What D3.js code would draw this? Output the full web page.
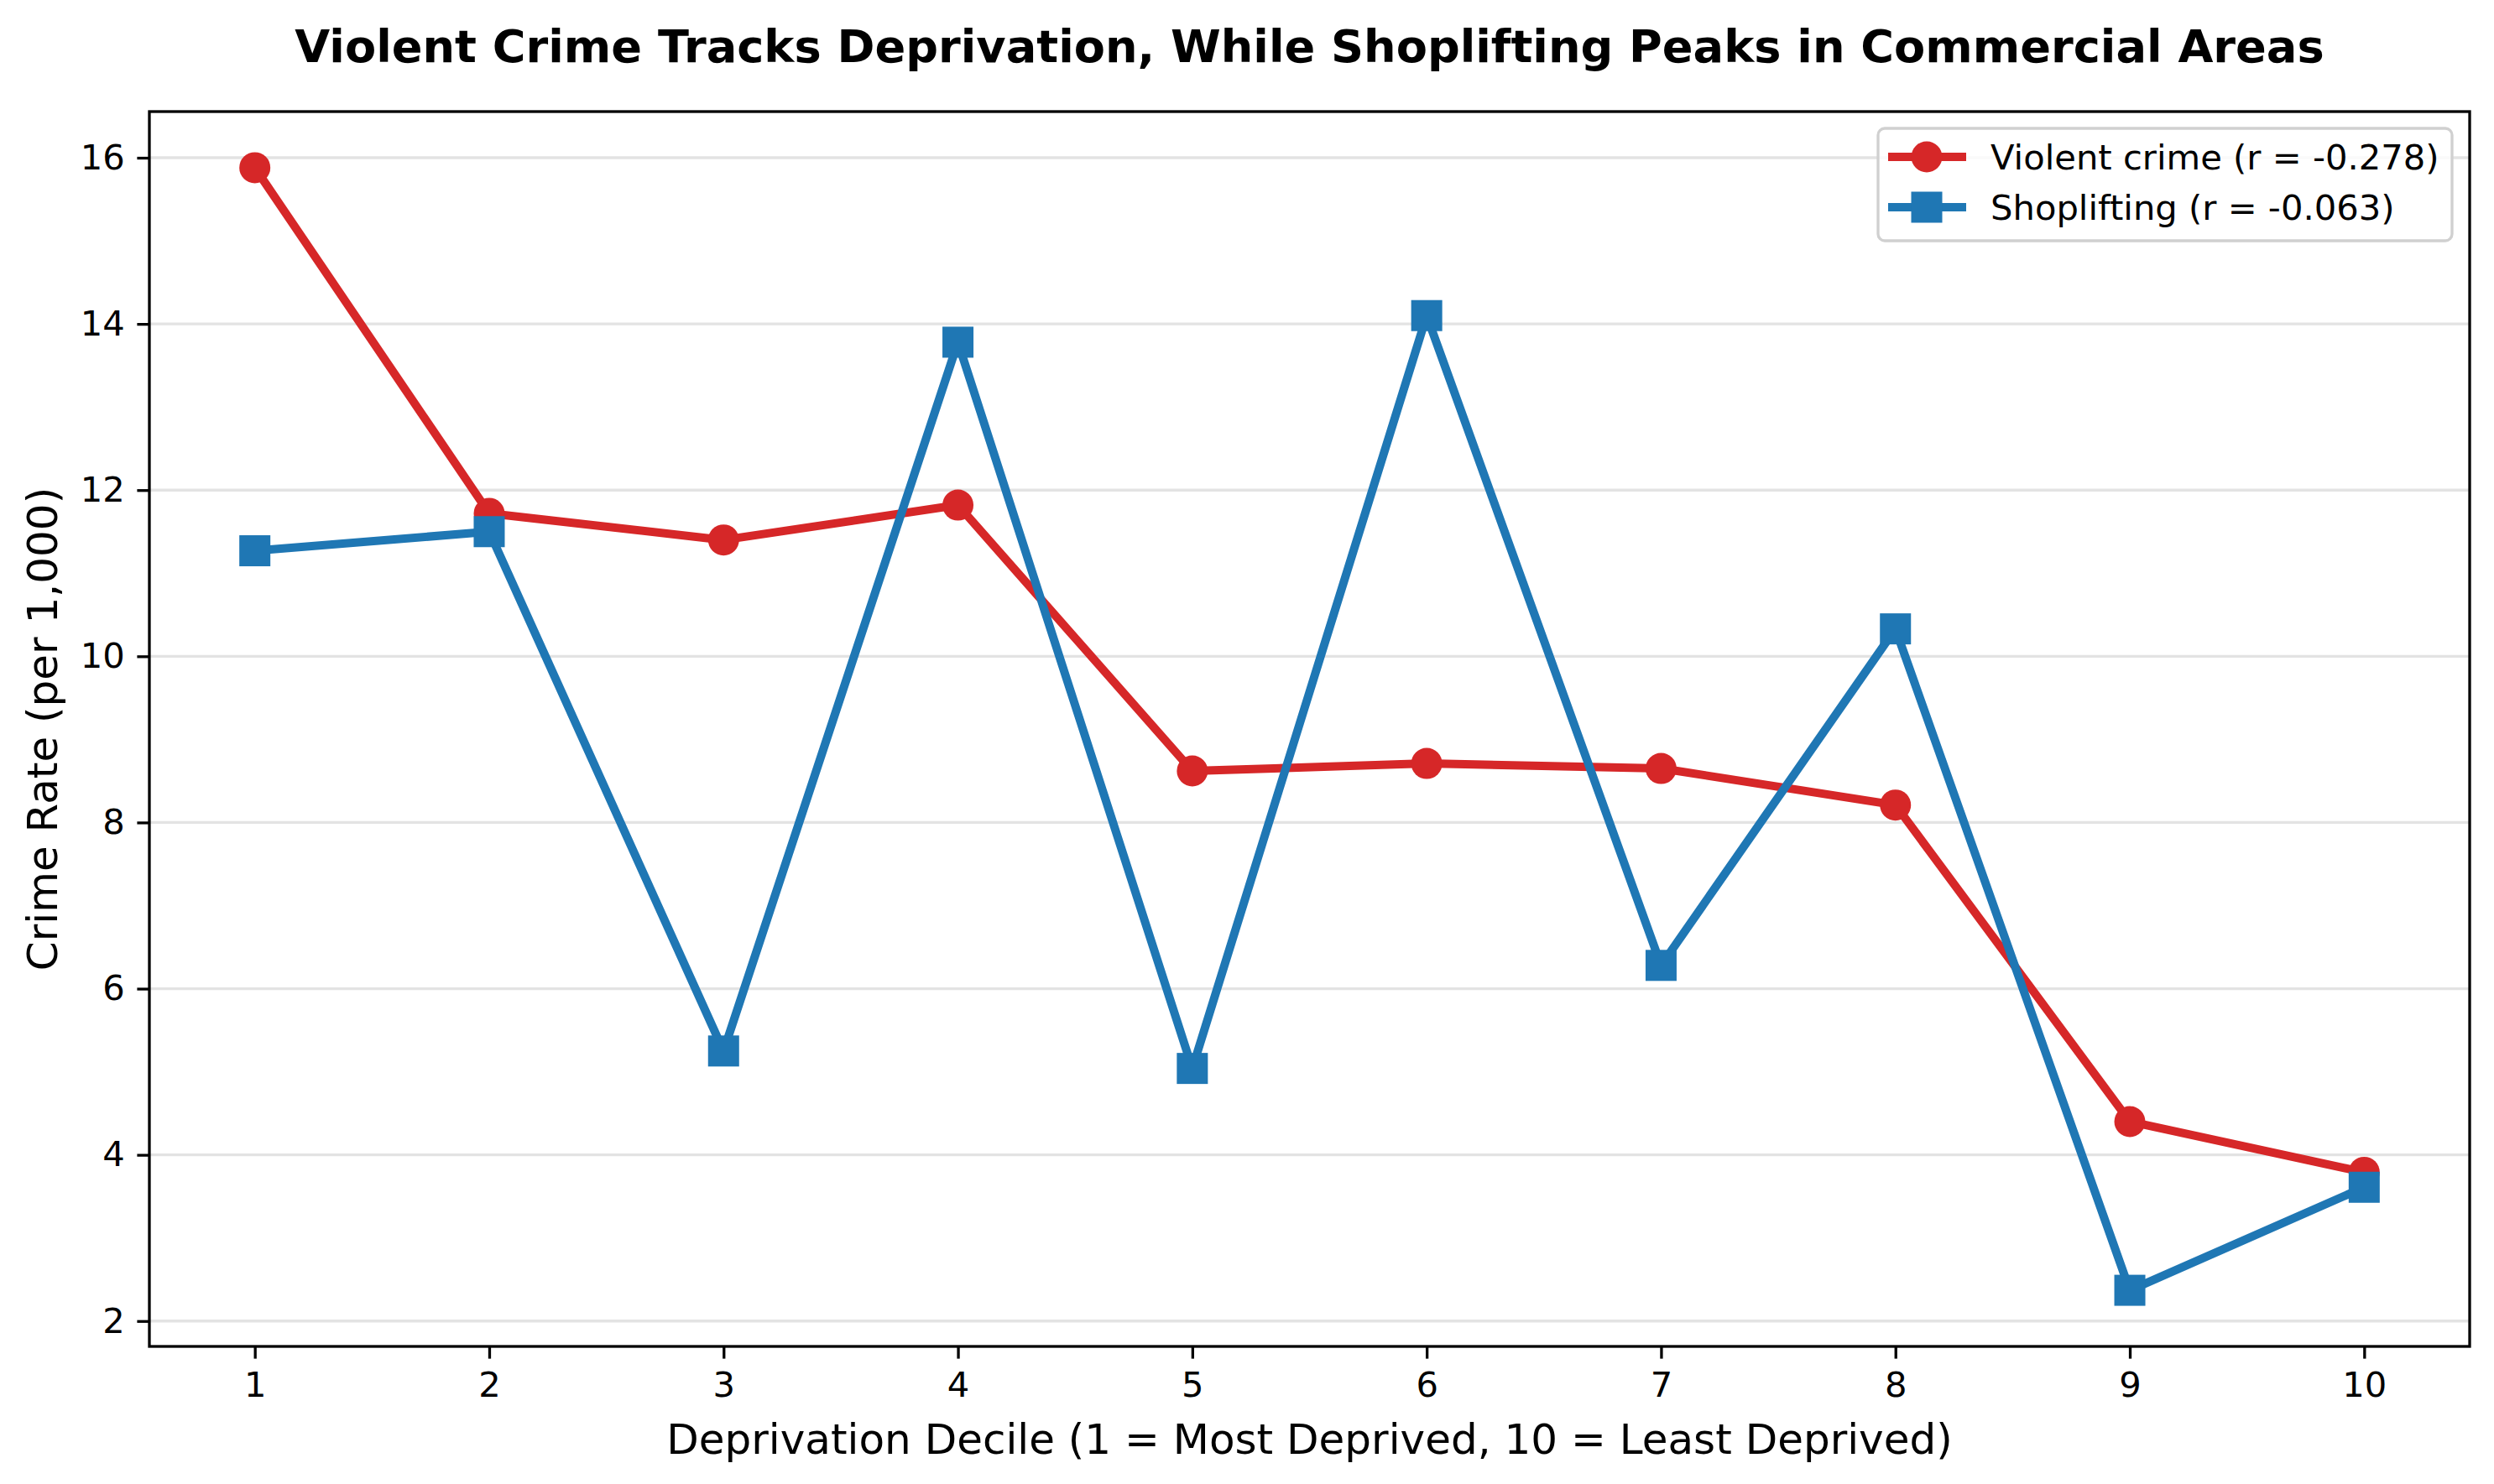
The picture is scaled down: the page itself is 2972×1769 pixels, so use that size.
<!DOCTYPE html>
<html>
<head>
<meta charset="utf-8">
<script src="https://cdn.jsdelivr.net/npm/d3@7"></script>
<style>
  body { margin: 0; background: #fff; }
  svg { display: block; font-family: "DejaVu Sans", sans-serif; }
</style>
</head>
<body>
<svg id="chart"></svg>
<script>
// data
var deciles = [1, 2, 3, 4, 5, 6, 7, 8, 9, 10];
var violent = [15.88, 11.72, 11.40, 11.82, 8.62, 8.71, 8.65, 8.21, 4.40, 3.79];
var shoplifting = [11.27, 11.50, 5.25, 13.78, 5.04, 14.10, 6.28, 10.33, 2.37, 3.61];
var yTicks = [2, 4, 6, 8, 10, 12, 14, 16];
var seriesNames = ["Violent crime (r = -0.278)", "Shoplifting (r = -0.063)"];

var W = 2972, H = 1769;
var plotL = 178, plotR = 2943, plotT = 133, plotB = 1605;

var svg = d3.select("#chart").attr("width", W).attr("height", H);
svg.append("rect").attr("width", W).attr("height", H).attr("fill", "#fff");

var allVals = violent.concat(shoplifting);
var lo = d3.min(allVals), hi = d3.max(allVals), pad = (hi - lo) * 0.05;

var x = d3.scaleLinear().domain([0.55, 10.45]).range([plotL, plotR]);
var y = d3.scaleLinear().domain([lo - pad, hi + pad]).range([plotB, plotT]);

// grid
svg.append("g")
  .selectAll("line")
  .data(yTicks)
  .enter()
  .append("line")
  .attr("x1", plotL).attr("x2", plotR)
  .attr("y1", function(d){ return y(d); })
  .attr("y2", function(d){ return y(d); })
  .attr("stroke", "#e3e3e3")
  .attr("stroke-width", 3.3);

// axes
var xAxis = svg.append("g")
  .attr("transform", "translate(0," + plotB + ")")
  .call(d3.axisBottom(x).tickValues(deciles).tickFormat(d3.format("d")).tickSize(14.6).tickPadding(14.6));
var yAxis = svg.append("g")
  .attr("transform", "translate(" + plotL + ",0)")
  .call(d3.axisLeft(y).tickValues(yTicks).tickFormat(d3.format("d")).tickSize(14.6).tickPadding(14.6));

[xAxis, yAxis].forEach(function(a){
  a.select(".domain").remove();
  a.selectAll(".tick line").attr("stroke", "#000").attr("stroke-width", 3.3);
  a.selectAll(".tick text").attr("font-size", 41.7).attr("fill", "#000")
    .attr("font-family", "DejaVu Sans");
});
xAxis.selectAll(".tick text").attr("dy", "0.74em");

// frame
svg.append("rect")
  .attr("x", plotL).attr("y", plotT)
  .attr("width", plotR - plotL).attr("height", plotB - plotT)
  .attr("fill", "none").attr("stroke", "#000").attr("stroke-width", 3.3);

// lines
var line = d3.line()
  .x(function(d, i){ return x(deciles[i]); })
  .y(function(d){ return y(d); });

svg.append("path").datum(violent)
  .attr("d", line).attr("fill", "none")
  .attr("stroke", "#d62728").attr("stroke-width", 10)
  .attr("stroke-linejoin", "round");
svg.append("g").selectAll("circle")
  .data(violent).enter().append("circle")
  .attr("cx", function(d, i){ return x(deciles[i]); })
  .attr("cy", function(d){ return y(d); })
  .attr("r", 18.5)
  .attr("fill", "#d62728");

svg.append("path").datum(shoplifting)
  .attr("d", line).attr("fill", "none")
  .attr("stroke", "#1f77b4").attr("stroke-width", 10)
  .attr("stroke-linejoin", "round");
svg.append("g").selectAll("rect")
  .data(shoplifting).enter().append("rect")
  .attr("x", function(d, i){ return x(deciles[i]) - 18.5; })
  .attr("y", function(d){ return y(d) - 18.5; })
  .attr("width", 37).attr("height", 37)
  .attr("fill", "#1f77b4");

// legend
var lg = svg.append("g");
lg.append("rect")
  .attr("x", 2238).attr("y", 153).attr("width", 684).attr("height", 134)
  .attr("rx", 8).attr("fill", "#fff").attr("fill-opacity", 0.8)
  .attr("stroke", "#d0d0d0").attr("stroke-width", 3.3);
var colors = ["#d62728", "#1f77b4"];
seriesNames.forEach(function(name, i){
  var cy = 187 + i * 60;
  lg.append("line").attr("x1", 2250).attr("x2", 2343).attr("y1", cy).attr("y2", cy)
    .attr("stroke", colors[i]).attr("stroke-width", 10);
  if (i === 0) {
    lg.append("circle").attr("cx", 2296).attr("cy", cy).attr("r", 18.5).attr("fill", colors[i]);
  } else {
    lg.append("rect").attr("x", 2296 - 18.5).attr("y", cy - 18.5).attr("width", 37).attr("height", 37).attr("fill", colors[i]);
  }
  lg.append("text").attr("x", 2372).attr("y", cy + 15)
    .attr("font-size", 41.7).attr("fill", "#000").text(name);
});

// titles
svg.append("text")
  .attr("x", (plotL + plotR) / 2).attr("y", 74)
  .attr("text-anchor", "middle").attr("font-size", 54.2).attr("font-weight", "bold")
  .text("Violent Crime Tracks Deprivation, While Shoplifting Peaks in Commercial Areas");
svg.append("text")
  .attr("x", (plotL + plotR) / 2).attr("y", 1733)
  .attr("text-anchor", "middle").attr("font-size", 50)
  .text("Deprivation Decile (1 = Most Deprived, 10 = Least Deprived)");
svg.append("text")
  .attr("transform", "translate(68," + ((plotT + plotB) / 2) + ") rotate(-90)")
  .attr("text-anchor", "middle").attr("font-size", 50)
  .text("Crime Rate (per 1,000)");
</script>
</body>
</html>
